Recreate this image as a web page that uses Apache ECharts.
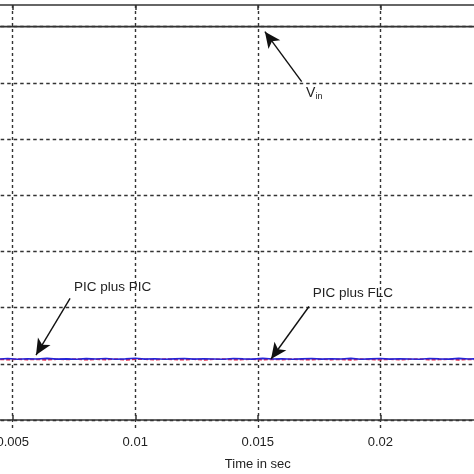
<!DOCTYPE html>
<html>
<head>
<meta charset="utf-8">
<script src="https://cdn.jsdelivr.net/npm/echarts@6/dist/echarts.min.js"></script>
<style>
html,body{margin:0;padding:0;background:#fff;}
#chart{width:474px;height:474px;}
</style>
</head>
<body>
<div id="chart"></div>
<script>
// ---- data ----
var timeSec = [0.0040,0.0044,0.0048,0.0052,0.0056,0.0060,0.0064,0.0068,0.0072,0.0076,
  0.0080,0.0084,0.0088,0.0092,0.0096,0.0100,0.0104,0.0108,0.0112,0.0116,
  0.0120,0.0124,0.0128,0.0132,0.0136,0.0140,0.0144,0.0148,0.0152,0.0156,
  0.0160,0.0164,0.0168,0.0172,0.0176,0.0180,0.0184,0.0188,0.0192,0.0196,
  0.0200,0.0204,0.0208,0.0212,0.0216,0.0220,0.0224,0.0228,0.0232,0.0236,0.0240];
var picPlusFlc = [5.44,5.42,5.47,5.41,5.45,5.43,5.48,5.42,5.44,5.40,
  5.46,5.43,5.47,5.41,5.44,5.49,5.42,5.45,5.40,5.44,
  5.47,5.42,5.45,5.43,5.40,5.47,5.44,5.42,5.48,5.43,
  5.45,5.41,5.44,5.47,5.42,5.45,5.43,5.48,5.41,5.44,
  5.47,5.42,5.45,5.43,5.40,5.47,5.44,5.42,5.48,5.43,5.45];
var picPlusPic = [5.38,5.41,5.36,5.42,5.37,5.40,5.35,5.41,5.38,5.43,
  5.36,5.40,5.37,5.42,5.35,5.40,5.41,5.36,5.43,5.38,
  5.37,5.41,5.35,5.40,5.42,5.37,5.38,5.41,5.36,5.40,
  5.37,5.42,5.38,5.36,5.41,5.37,5.40,5.35,5.42,5.38,
  5.36,5.41,5.37,5.40,5.43,5.36,5.38,5.41,5.35,5.40,5.37];
var vinTime = [0, 0.03];
var vinValue = [35, 35];
var yGridValues = [0,5,10,15,20,25,30,35];
var xRange = [0, 0.03];
var yRange = [-0.71, 36.92];
var xTickStep = 0.005;
// annotations: [tailX, tailY, tipX, tipY]
var arrowVin = [0.01679, 30.10, 0.01529, 34.55];
var arrowPic = [0.00734, 10.83, 0.00595, 5.78];
var arrowFlc = [0.01709, 10.10, 0.01554, 5.43];
var labelVin = [0.01697, 29.09];
var labelPic = [0.00750, 11.83];
var labelFlc = [0.01724, 11.30];

var FONT = '"Liberation Sans", Arial, Helvetica, sans-serif';
var chart = echarts.init(document.getElementById('chart'));

function pairs(xs, ys){ return xs.map(function(x,i){ return [x, ys[i]]; }); }
function arrow(a){
  return [{coord:[a[0],a[1]]},{coord:[a[2],a[3]]}];
}
function textPoint(p, txt){
  return {coord:p, value:txt};
}

var option = {
  animation: false,
  backgroundColor: '#ffffff',
  grid: {left: -109.8, top: 5, width: 735.2, height: 423, containLabel: false, outerBoundsMode: 'none'},
  xAxis: [{
    type: 'value', position: 'bottom', min: xRange[0], max: xRange[1], interval: xTickStep,
    name: 'Time in sec', nameLocation: 'middle', nameGap: 30,
    nameTextStyle: {fontFamily: FONT, fontSize: 13, color: '#222'},
    axisLine: {lineStyle: {color: '#333', width: 1.5}},
    axisTick: {inside: true, length: 5, lineStyle: {color: '#333', width: 1.5}},
    axisLabel: {fontFamily: FONT, fontSize: 13, color: '#222', margin: 8,
      formatter: function(v){ return String(+v.toFixed(4)); }},
    splitLine: {show: true, lineStyle: {color: '#333', width: 1.4, type: [3,3]}}
  },{
    type: 'value', position: 'top', min: xRange[0], max: xRange[1], interval: xTickStep,
    axisLine: {lineStyle: {color: '#333', width: 1.5}},
    axisTick: {inside: true, length: 5, lineStyle: {color: '#333', width: 1.5}},
    axisLabel: {show: false}, splitLine: {show: false}
  }],
  yAxis: {
    type: 'value', min: yRange[0], max: yRange[1],
    axisLine: {show: false}, axisTick: {show: false}, axisLabel: {show: false},
    splitLine: {show: false}
  },
  series: [
    {
      type: 'line', name: 'grid', data: [], silent: true,
      markLine: {
        silent: true, symbol: ['none','none'], label: {show: false},
        lineStyle: {color: '#333', width: 1.4, type: [3.5,3]},
        emphasis: {disabled: true},
        data: yGridValues.map(function(v){ return {yAxis: v}; })
      }
    },
    {
      type: 'line', name: 'Vin', data: pairs(vinTime, vinValue), symbol: 'none',
      lineStyle: {color: '#333', width: 1.7}, z: 3
    },
    {
      type: 'line', name: 'PIC plus PIC', data: pairs(timeSec, picPlusPic), symbol: 'none',
      lineStyle: {color: '#e8203c', width: 1.6, type: [4,2]}, z: 3
    },
    {
      type: 'line', name: 'PIC plus FLC', data: pairs(timeSec, picPlusFlc), symbol: 'none',
      lineStyle: {color: '#2424d8', width: 1.6}, z: 4
    },
    {
      type: 'line', name: 'annotations', data: [], silent: true, z: 5,
      markLine: {
        silent: true, symbol: ['none','arrow'], symbolSize: [11, 16],
        label: {show: false}, emphasis: {disabled: true},
        lineStyle: {color: '#111', width: 1.4, type: 'solid'},
        data: [arrow(arrowVin), arrow(arrowPic), arrow(arrowFlc)]
      },
      markPoint: {
        silent: true, symbol: 'circle', symbolSize: 0,
        label: {
          show: true, position: 'right', distance: 0,
          fontFamily: FONT, fontSize: 13.5, color: '#222',
          formatter: function(p){ return p.value === 'Vin' ? '{v|V}{s|in}' : p.value; },
          rich: {
            v: {fontFamily: FONT, fontSize: 14, color: '#222', lineHeight: 16},
            s: {fontFamily: FONT, fontSize: 9, color: '#222', verticalAlign: 'bottom', padding: [7,0,0,0]}
          }
        },
        data: [textPoint(labelVin, 'Vin'), textPoint(labelPic, 'PIC plus PIC'), textPoint(labelFlc, 'PIC plus FLC')]
      }
    }
  ]
};
chart.setOption(option);
</script>
</body>
</html>
